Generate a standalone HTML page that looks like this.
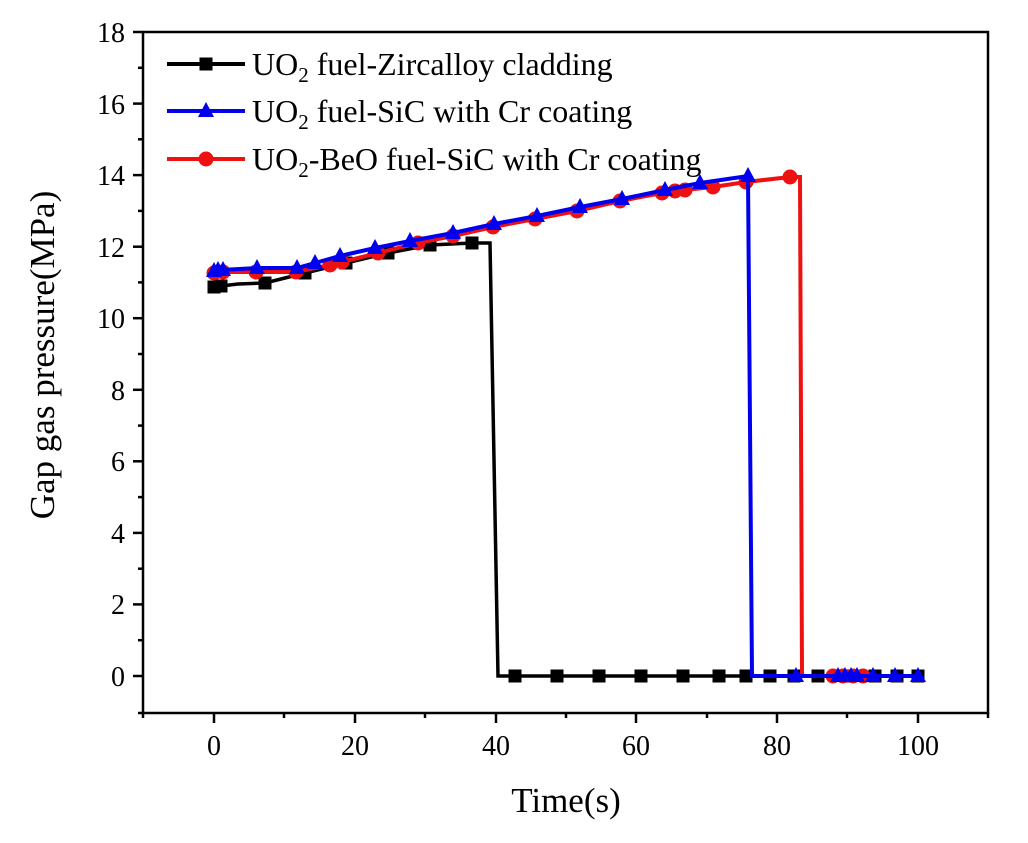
<!DOCTYPE html>
<html><head><meta charset="utf-8"><style>body{margin:0;background:#fff}svg{display:block}</style></head><body>
<svg width="1028" height="843" viewBox="0 0 1028 843" xmlns="http://www.w3.org/2000/svg" font-family="Liberation Serif, serif">
<defs>
<rect id="sq" x="-6.5" y="-6.5" width="13" height="13" fill="#000"/>
<path id="tr" d="M0,-9 L8,6 L-8,6 Z" fill="#0000ee"/>
<circle id="ci" r="7.5" fill="#ee1111"/>
</defs>
<rect x="143" y="32" width="845" height="681" fill="none" stroke="#000" stroke-width="2.5"/>
<g stroke="#000" stroke-width="2.5">
<line x1="214" y1="713" x2="214" y2="723"/><line x1="355" y1="713" x2="355" y2="723"/><line x1="496" y1="713" x2="496" y2="723"/><line x1="636" y1="713" x2="636" y2="723"/><line x1="777" y1="713" x2="777" y2="723"/><line x1="918" y1="713" x2="918" y2="723"/>
<line x1="143" y1="713" x2="143" y2="718"/><line x1="284" y1="713" x2="284" y2="718"/><line x1="425" y1="713" x2="425" y2="718"/><line x1="566" y1="713" x2="566" y2="718"/><line x1="707" y1="713" x2="707" y2="718"/><line x1="847" y1="713" x2="847" y2="718"/><line x1="988" y1="713" x2="988" y2="718"/>
<line x1="133" y1="676" x2="143" y2="676"/><line x1="133" y1="604.4" x2="143" y2="604.4"/><line x1="133" y1="532.9" x2="143" y2="532.9"/><line x1="133" y1="461.3" x2="143" y2="461.3"/><line x1="133" y1="389.8" x2="143" y2="389.8"/><line x1="133" y1="318.2" x2="143" y2="318.2"/><line x1="133" y1="246.7" x2="143" y2="246.7"/><line x1="133" y1="175.1" x2="143" y2="175.1"/><line x1="133" y1="103.6" x2="143" y2="103.6"/><line x1="133" y1="32" x2="143" y2="32"/>
<line x1="138" y1="713" x2="143" y2="713"/><line x1="138" y1="640.2" x2="143" y2="640.2"/><line x1="138" y1="568.7" x2="143" y2="568.7"/><line x1="138" y1="497.1" x2="143" y2="497.1"/><line x1="138" y1="425.6" x2="143" y2="425.6"/><line x1="138" y1="354" x2="143" y2="354"/><line x1="138" y1="282.4" x2="143" y2="282.4"/><line x1="138" y1="210.9" x2="143" y2="210.9"/><line x1="138" y1="139.3" x2="143" y2="139.3"/><line x1="138" y1="67.8" x2="143" y2="67.8"/>
</g>
<g font-size="28" text-anchor="middle">
<text x="214" y="755">0</text><text x="355" y="755">20</text><text x="496" y="755">40</text><text x="636" y="755">60</text><text x="777" y="755">80</text><text x="918" y="755">100</text>
</g>
<g font-size="28" text-anchor="end">
<text x="125" y="686">0</text><text x="125" y="614">2</text><text x="125" y="543">4</text><text x="125" y="471">6</text><text x="125" y="400">8</text><text x="125" y="328">10</text><text x="125" y="257">12</text><text x="125" y="185">14</text><text x="125" y="114">16</text><text x="125" y="42">18</text>
</g>
<text x="566" y="812" font-size="35" text-anchor="middle">Time(s)</text>
<text transform="translate(54,355) rotate(-90)" font-size="35" text-anchor="middle">Gap gas pressure(MPa)</text>

<polyline fill="none" stroke="#000" stroke-width="3.5" points="214,287 221,286 238,284 265,283 285,278 305,273 346,263 388,253 430,245 472,243 490,243 498,676 918,676"/>
<g>
<use href="#sq" x="214" y="287"/><use href="#sq" x="221" y="286"/><use href="#sq" x="265" y="283"/><use href="#sq" x="305" y="273"/><use href="#sq" x="346" y="263"/><use href="#sq" x="388" y="253"/><use href="#sq" x="430" y="245"/><use href="#sq" x="472" y="243"/>
<use href="#sq" x="515" y="676"/><use href="#sq" x="557" y="676"/><use href="#sq" x="599" y="676"/><use href="#sq" x="641" y="676"/><use href="#sq" x="683" y="676"/><use href="#sq" x="719" y="676"/><use href="#sq" x="746" y="676"/><use href="#sq" x="770" y="676"/><use href="#sq" x="794" y="676"/><use href="#sq" x="818" y="676"/><use href="#sq" x="850" y="676"/><use href="#sq" x="875" y="676"/><use href="#sq" x="897" y="676"/><use href="#sq" x="918" y="676"/>
</g>
<polyline fill="none" stroke="#ee1111" stroke-width="4" points="214,273 223,272 256,272 296,272 330,265 342,262 378,253 418,243 453,236 493,227 535,219 577,211 620,201 662,193 685,190 713,187 746,182 790,177 800,177 802,676 870,676"/>
<g>
<use href="#ci" x="214" y="273"/><use href="#ci" x="223" y="272"/><use href="#ci" x="256" y="272"/><use href="#ci" x="296" y="272"/><use href="#ci" x="330" y="265"/><use href="#ci" x="342" y="262"/><use href="#ci" x="378" y="253"/><use href="#ci" x="418" y="243"/><use href="#ci" x="453" y="236"/><use href="#ci" x="493" y="227"/><use href="#ci" x="535" y="219"/><use href="#ci" x="577" y="211"/><use href="#ci" x="620" y="201"/><use href="#ci" x="662" y="193"/><use href="#ci" x="675" y="191"/><use href="#ci" x="685" y="190"/><use href="#ci" x="713" y="187"/><use href="#ci" x="746" y="182"/><use href="#ci" x="790" y="177"/>
<use href="#ci" x="833" y="676"/><use href="#ci" x="843" y="676"/><use href="#ci" x="853" y="676"/><use href="#ci" x="863" y="676"/>
</g>
<polyline fill="none" stroke="#0000ee" stroke-width="4" points="214,271 221,270 257,268 297,268 315,263 340,256 375,248 410,241 453,233 494,224 537,216 580,207 622,199 665,190 700,183 748,176 752,676 918,676"/>
<g>
<use href="#tr" x="214" y="271"/><use href="#tr" x="218" y="270"/><use href="#tr" x="223" y="270"/><use href="#tr" x="257" y="268"/><use href="#tr" x="297" y="268"/><use href="#tr" x="315" y="263"/><use href="#tr" x="340" y="256"/><use href="#tr" x="375" y="248"/><use href="#tr" x="410" y="241"/><use href="#tr" x="453" y="233"/><use href="#tr" x="494" y="224"/><use href="#tr" x="537" y="216"/><use href="#tr" x="580" y="207"/><use href="#tr" x="622" y="199"/><use href="#tr" x="665" y="190"/><use href="#tr" x="700" y="183"/><use href="#tr" x="748" y="176"/>
<use href="#tr" x="796" y="676"/><use href="#tr" x="838" y="676"/><use href="#tr" x="845" y="676"/><use href="#tr" x="851" y="676"/><use href="#tr" x="857" y="676"/><use href="#tr" x="873" y="676"/><use href="#tr" x="895" y="676"/><use href="#tr" x="918" y="676"/>
</g>
<line x1="167" y1="64" x2="245" y2="64" stroke="#000" stroke-width="4"/><use href="#sq" x="206" y="64"/>
<text x="252" y="75" font-size="32">UO<tspan font-size="21" dy="7">2</tspan><tspan dy="-7"> fuel-Zircalloy cladding</tspan></text>
<line x1="167" y1="111" x2="245" y2="111" stroke="#0000ee" stroke-width="4"/><use href="#tr" x="206" y="111"/>
<text x="252" y="122" font-size="32">UO<tspan font-size="21" dy="7">2</tspan><tspan dy="-7"> fuel-SiC with Cr coating</tspan></text>
<line x1="167" y1="159" x2="245" y2="159" stroke="#ee1111" stroke-width="4"/><use href="#ci" x="206" y="159"/>
<text x="252" y="170" font-size="32">UO<tspan font-size="21" dy="7">2</tspan><tspan dy="-7">-BeO fuel-SiC with Cr coating</tspan></text>
</svg>
</body></html>
